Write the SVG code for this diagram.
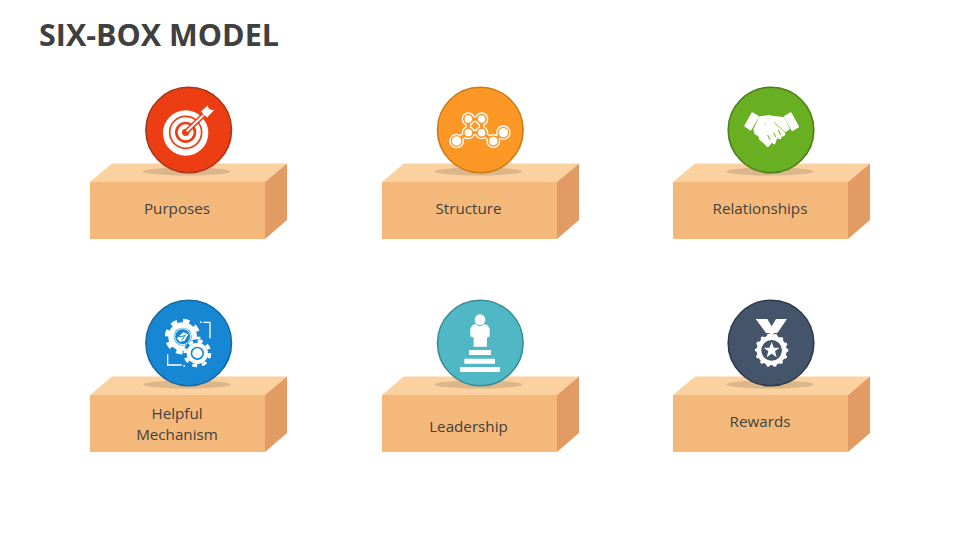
<svg xmlns="http://www.w3.org/2000/svg" width="960" height="540" viewBox="0 0 960 540">
<style>
.t{font-family:"Open Sans","Liberation Sans",sans-serif;fill:#404040}
.title{font-size:31px;font-weight:700}
.lab{font-size:15.2px;text-anchor:middle}
.front{fill:#F4B97A}.top{fill:#FBD29F}.side{fill:#E39B64}
.shadow{fill:#000;opacity:.13}
.disc{stroke-width:1.6}
.w{fill:#fff}
</style>
<defs>
<g id="box">
<polygon class="top" points="90,182 112,163.5 287,163.5 265,182"/>
<polygon class="side" points="265,182 287,163.5 287,220 265,239"/>
<rect class="front" x="90" y="182" width="175" height="57"/>
</g>
</defs>
<rect width="960" height="540" fill="#fff"/>
<text class="t title" x="39" y="46" textLength="240" lengthAdjust="spacingAndGlyphs">SIX-BOX MODEL</text>

<g id="node-purposes">
<use href="#box"/>
<ellipse class="shadow" cx="187" cy="171.5" rx="44" ry="4"/>
<circle class="disc" cx="188.7" cy="130" r="42.8" fill="#EC3D13" stroke="#A9351A"/>
<g transform="translate(80,80) scale(.3333)">
<circle cx="317" cy="159" r="68" fill="#fff"/>
<circle cx="317" cy="157" r="48" fill="none" stroke="#EC3D13" stroke-width="5"/>
<circle cx="317" cy="157" r="28" fill="none" stroke="#EC3D13" stroke-width="8"/>
<circle cx="317" cy="157" r="11" fill="#EC3D13"/>
<path d="M320,154 L385,92" stroke="#EC3D13" stroke-width="15" fill="none"/>
<path d="M320,154 L378,98" stroke="#fff" stroke-width="6" fill="none"/>
<path d="M362,94 L384,74 L388,86 L404,90 L382,114 L371,106 Z" fill="#fff" stroke="#EC3D13" stroke-width="3"/>
</g>
<text class="t lab" x="177" y="213.5">Purposes</text>
</g>

<g id="node-structure">
<use href="#box" x="292"/>
<ellipse class="shadow" cx="478.5" cy="171.5" rx="44" ry="4"/>
<circle class="disc" cx="480.3" cy="130" r="42.8" fill="#FD9827" stroke="#D07A15"/>
<g transform="translate(425,80) scale(.3333)">
<path d="M130,117 H170 V158 H130 Z M95,183 L130,158 M170,158 L205,183 L235,158" fill="none" stroke="#fff" stroke-width="17" stroke-linejoin="round"/>
<g fill="#fff"><circle cx="130" cy="117" r="20"/><circle cx="170" cy="117" r="20"/><circle cx="130" cy="158" r="20"/><circle cx="170" cy="158" r="20"/><circle cx="95" cy="183" r="22"/><circle cx="205" cy="183" r="21"/><circle cx="235" cy="158" r="22"/></g>
<path d="M130,117 H170 V158 H130 Z M95,183 L130,158 M170,158 L205,183 L235,158" fill="none" stroke="#FD9827" stroke-width="10" stroke-linejoin="round"/>
<g fill="#FD9827"><circle cx="130" cy="117" r="16"/><circle cx="170" cy="117" r="16"/><circle cx="130" cy="158" r="16"/><circle cx="170" cy="158" r="16"/><circle cx="95" cy="183" r="18"/><circle cx="205" cy="183" r="17"/><circle cx="235" cy="158" r="18"/></g>
<g fill="#fff"><circle cx="130" cy="117" r="11"/><circle cx="170" cy="117" r="11"/><circle cx="130" cy="158" r="11"/><circle cx="170" cy="158" r="11"/><circle cx="95" cy="183" r="14"/><circle cx="205" cy="183" r="13"/><circle cx="235" cy="158" r="14"/></g>
</g>
<text class="t lab" x="468.5" y="213.5">Structure</text>
</g>

<g id="node-relationships">
<use href="#box" x="583"/>
<ellipse class="shadow" cx="770" cy="171.5" rx="44" ry="4"/>
<circle class="disc" cx="771" cy="130" r="42.8" fill="#69AF22" stroke="#4C7F1A"/>
<g transform="translate(715,80) scale(.3333)">
<g fill="#fff" stroke="#fff" stroke-width="6" stroke-linejoin="round">
<polygon points="112,100 129,110 107,148 91,138"/>
<polygon points="210,110 227,100 249,140 232,150"/>
<path d="M135,112 L165,108 L147,122 Q142,135 155,140 L172,128 L207,158 Q210,168 199,166 L195,175 L185,170 L178,190 L170,185 L158,198 L148,188 L136,178 L132,166 L121,160 L118,148 Z"/>
<path d="M170,110 L205,114 L221,146 L212,153 L178,123 L156,134 L150,125 Z"/>
</g>
<path d="M165,180 L158,165 M183,172 L176,158 M197,165 L190,150" stroke="#69AF22" stroke-width="3" fill="none"/>
</g>
<text class="t lab" x="760" y="213.5">Relationships</text>
</g>

<g id="node-helpful-mechanism">
<use href="#box" y="213"/>
<ellipse class="shadow" cx="187" cy="384.5" rx="44" ry="4"/>
<circle class="disc" cx="188.7" cy="343" r="42.8" fill="#1787D4" stroke="#156AA5"/>
<g transform="translate(135,295) scale(.3333)">
<circle cx="143" cy="125" r="43" fill="#fff"/>
<circle cx="143" cy="125" r="47" fill="none" stroke="#fff" stroke-width="13" stroke-dasharray="19 17.9"/>
<circle cx="143" cy="125" r="27" fill="#1787D4"/>
<circle cx="143" cy="125" r="24" fill="none" stroke="#fff" stroke-width="3"/>
<path d="M125,130 L145,112 L160,118 L148,138 L135,140 Z" fill="#fff"/>
<path d="M130,126 L150,122 M140,136 L152,118" stroke="#1787D4" stroke-width="3"/>
<circle cx="187" cy="175" r="42" fill="#1787D4"/>
<circle cx="187" cy="175" r="32" fill="#fff"/>
<circle cx="187" cy="175" r="37" fill="none" stroke="#fff" stroke-width="10" stroke-dasharray="14.5 14.6"/>
<circle cx="187" cy="175" r="20" fill="#1787D4"/>
<circle cx="187" cy="175" r="15" fill="#fff"/>
<path d="M205,82 H225 V130 M98,178 V210 H140" fill="none" stroke="#fff" stroke-width="4"/>
<rect x="195" y="79" width="5" height="5" fill="#fff"/>
<rect x="145" y="210" width="5" height="5" fill="#fff"/>
</g>
<text class="t lab" x="177" y="418.5">Helpful</text>
<text class="t lab" x="177" y="439.5">Mechanism</text>
</g>

<g id="node-leadership">
<use href="#box" x="292" y="213"/>
<ellipse class="shadow" cx="478.5" cy="384.5" rx="44" ry="4"/>
<circle class="disc" cx="480.3" cy="343" r="42.8" fill="#4FB8C4" stroke="#3A8E99"/>
<g transform="translate(425,295) scale(.3333)" class="w">
<circle cx="165" cy="74" r="16"/>
<path d="M136,102 Q140,88 152,87 Q165,100 178,87 Q190,88 194,102 V124 L186,128 V155 H146 V128 L136,124 Z"/>
<rect x="132" y="165" width="66" height="15" rx="1"/>
<rect x="118" y="191" width="92" height="15" rx="1"/>
<rect x="105" y="216" width="120" height="15" rx="2"/>
</g>
<text class="t lab" x="468.5" y="431.5">Leadership</text>
</g>

<g id="node-rewards">
<use href="#box" x="583" y="213"/>
<ellipse class="shadow" cx="770" cy="384.5" rx="44" ry="4"/>
<circle class="disc" cx="771" cy="343" r="42.8" fill="#44546A" stroke="#2F3B4C"/>
<g transform="translate(715,295) scale(.3333)" class="w">
<polygon points="122,72 157,72 170,94 183,72 216,72 187,114 176,114 176,122 164,122 164,114 153,114"/>
<circle cx="170" cy="166" r="45"/>
<circle cx="170" cy="166" r="45" fill="none" stroke="#fff" stroke-width="11" stroke-linecap="round" stroke-dasharray="0.1 20.1"/>
<circle cx="170" cy="166" r="31" fill="#44546A"/>
<polygon points="170,141 176.5,158 194,158 180,169 185,187 170,176 155,187 160,169 146,158 163.5,158"/>
</g>
<text class="t lab" x="760" y="426.5">Rewards</text>
</g>
</svg>
